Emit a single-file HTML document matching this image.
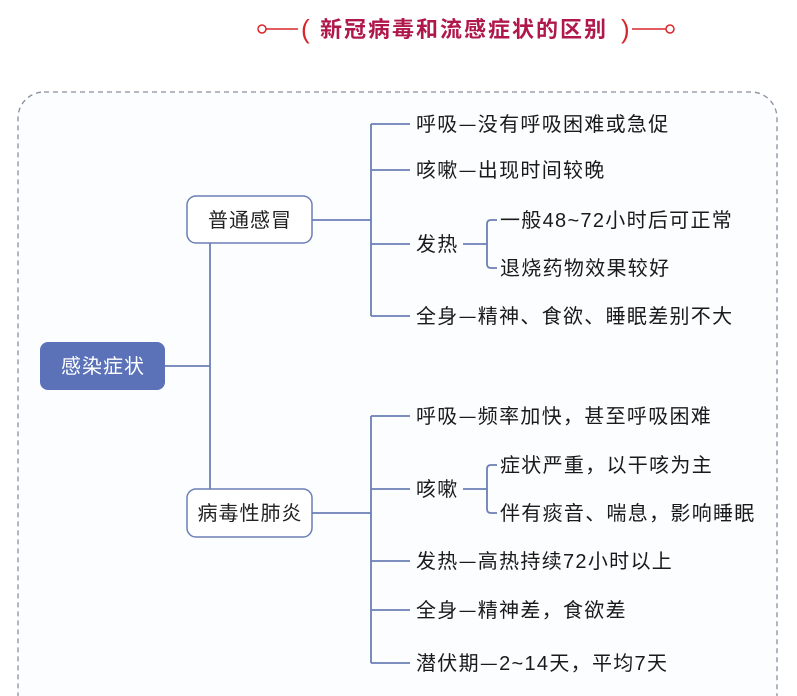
<!DOCTYPE html>
<html><head><meta charset="utf-8"><style>
html,body{margin:0;padding:0;background:#fff;width:797px;height:696px;overflow:hidden;}
svg{display:block}
text{font-family:"Liberation Sans","Noto Sans CJK SC",sans-serif;}
.d{font-family:"Noto Sans CJK SC",sans-serif;}
</style></head><body>
<svg width="797" height="696" viewBox="0 0 797 696" xmlns="http://www.w3.org/2000/svg">
<!-- title -->
<circle cx="262" cy="29" r="4" fill="none" stroke="#d9262b" stroke-width="1.5"/>
<line x1="266" y1="29" x2="298" y2="29" stroke="#d9262b" stroke-width="1.5"/>
<text x="301" y="38" font-size="26" fill="#d9262b">(</text>
<text x="320" y="37" font-size="22" font-weight="bold" fill="#b0174a" letter-spacing="2">新冠病毒和流感症状的区别</text>
<text x="621" y="38" font-size="26" fill="#d9262b">)</text>
<line x1="632" y1="29" x2="666" y2="29" stroke="#d9262b" stroke-width="1.5"/>
<circle cx="670" cy="29" r="4" fill="none" stroke="#d9262b" stroke-width="1.5"/>

<!-- dashed container -->
<rect x="18" y="92" width="759" height="640" rx="26" fill="#fcfdff" stroke="#8a8f9c" stroke-width="1.3" stroke-dasharray="5,4"/>

<g stroke="#6b7fb5" stroke-width="1.8" fill="none">
<line x1="165" y1="366" x2="210" y2="366"/>
<line x1="210" y1="243" x2="210" y2="489"/>
<line x1="312" y1="220" x2="371" y2="220"/>
<line x1="371" y1="124" x2="371" y2="316"/>
<line x1="371" y1="124" x2="410" y2="124"/>
<line x1="371" y1="170" x2="410" y2="170"/>
<line x1="371" y1="244" x2="410" y2="244"/>
<line x1="371" y1="316" x2="410" y2="316"/>
<line x1="463" y1="244" x2="487" y2="244"/>
<path d="M497 220 H491 Q487 220 487 224 V264 Q487 268 491 268 H497"/>
<line x1="312" y1="513" x2="371" y2="513"/>
<line x1="371" y1="416" x2="371" y2="663"/>
<line x1="371" y1="416" x2="410" y2="416"/>
<line x1="371" y1="489" x2="410" y2="489"/>
<line x1="371" y1="561" x2="410" y2="561"/>
<line x1="371" y1="610" x2="410" y2="610"/>
<line x1="371" y1="663" x2="410" y2="663"/>
<line x1="463" y1="489" x2="487" y2="489"/>
<path d="M497 465 H491 Q487 465 487 469 V509 Q487 513 491 513 H497"/>
</g>

<rect x="40" y="342" width="125" height="48" rx="8" fill="#5b72b9"/>
<text x="103" y="373" font-size="20" fill="#fff" text-anchor="middle" letter-spacing="1">感染症状</text>
<rect x="187" y="196" width="125" height="47" rx="9" fill="#fff" stroke="#6b7fb5" stroke-width="1.5"/>
<text x="250" y="227" font-size="20" fill="#222" text-anchor="middle" letter-spacing="1">普通感冒</text>
<rect x="187" y="489" width="125" height="48" rx="9" fill="#fff" stroke="#6b7fb5" stroke-width="1.5"/>
<text x="250" y="520" font-size="20" fill="#222" text-anchor="middle" letter-spacing="1">病毒性肺炎</text>

<g font-size="20" fill="#1a1a1a" letter-spacing="1.3">
<text x="416" y="131">呼吸<tspan class="d">—</tspan>没有呼吸困难或急促</text>
<text x="416" y="177">咳嗽<tspan class="d">—</tspan>出现时间较晚</text>
<text x="416" y="251">发热</text>
<text x="500" y="227">一般48~72小时后可正常</text>
<text x="500" y="275">退烧药物效果较好</text>
<text x="416" y="323">全身<tspan class="d">—</tspan>精神、食欲、睡眠差别不大</text>
<text x="416" y="423">呼吸<tspan class="d">—</tspan>频率加快，甚至呼吸困难</text>
<text x="416" y="496">咳嗽</text>
<text x="500" y="472">症状严重，以干咳为主</text>
<text x="500" y="520">伴有痰音、喘息，影响睡眠</text>
<text x="416" y="568">发热<tspan class="d">—</tspan>高热持续72小时以上</text>
<text x="416" y="617">全身<tspan class="d">—</tspan>精神差，食欲差</text>
<text x="416" y="670">潜伏期<tspan class="d">—</tspan>2~14天，平均7天</text>
</g>
</svg>
</body></html>
